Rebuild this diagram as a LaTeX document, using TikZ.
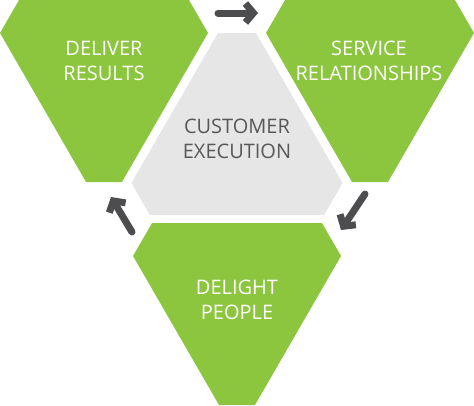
\documentclass[tikz,border=0pt]{standalone}
\usepackage{fontspec}
\setmainfont{Open Sans}
\usetikzlibrary{arrows.meta}
\definecolor{leaf}{HTML}{8CC63F}
\definecolor{hexgray}{HTML}{E6E6E6}
\definecolor{txtgray}{HTML}{58585A}
\definecolor{arrgray}{HTML}{4D4D4F}
\tikzset{
  greenshape/.style={fill=leaf},
  grayshape/.style={fill=hexgray},
  lbl/.style={align=center, font=\fontsize{20}{24.5}\selectfont, inner sep=0pt},
  whitelbl/.style={lbl, text=white},
  graylbl/.style={lbl, text=txtgray},
  flowarrow/.style={draw=arrgray, line width=7pt, line cap=round,
    -{Straight Barb[length=8pt, width=19pt]}},
}
\begin{document}
\begin{tikzpicture}[x=1pt, y=-1pt]
\useasboundingbox (0,0) rectangle (474,405);
% green truncated triangles: half width 104 at vertex line, top 33 above, bottom 149 below
\newcommand{\greenshape}[2]{%
  \fill[greenshape] (#1-84.95,#2-33) -- (#1+84.95,#2-33) -- (#1+104,#2)
    -- (#1+17.97,#2+149) -- (#1-17.97,#2+149) -- (#1-104,#2) -- cycle;}
\greenshape{104}{33}
\greenshape{370}{33}
\greenshape{237}{256}
% central gray hexagon
\fill[grayshape] (218,33) -- (256,33) -- (342.6,183) -- (324.1,215)
  -- (149.9,215) -- (131.4,183) -- cycle;
% labels
\node[whitelbl] (deliver) at (104,61) {DELIVER\\RESULTS};
\node[whitelbl] (service) at (369,61) {SERVICE\\RELATIONSHIPS};
\node[graylbl] (customer) at (237,139) {CUSTOMER\\EXECUTION};
\node[whitelbl] (delight) at (237,300) {DELIGHT\\PEOPLE};
% arrows
\coordinate (a1s) at (218,13);
\coordinate (a1e) at (258,13);
\coordinate (a2s) at (365,194);
\coordinate (a2e) at (341,230);
\coordinate (a3s) at (132,232);
\coordinate (a3e) at (111,197);
\draw[flowarrow] (a1s) -- (a1e);
\draw[flowarrow] (a2s) -- (a2e);
\draw[flowarrow] (a3s) -- (a3e);
\end{tikzpicture}
\end{document}
